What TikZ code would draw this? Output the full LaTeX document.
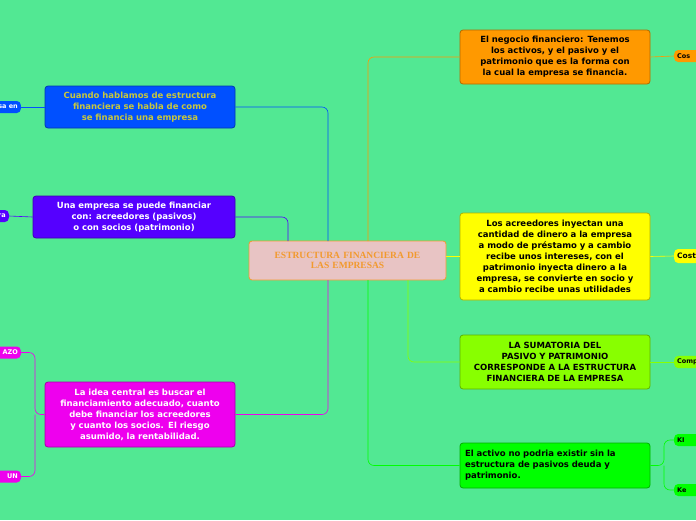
\documentclass[tikz,border=0pt]{standalone}
\usepackage{fontspec}
\setmainfont{DejaVu Sans}
\newfontfamily\titlefont{Liberation Serif}
\usetikzlibrary{positioning}
\definecolor{bgc}{HTML}{52E893}
\definecolor{blueb}{HTML}{0050FF}
\definecolor{purpb}{HTML}{5500FF}
\definecolor{magb}{HTML}{EE00EE}
\definecolor{orab}{HTML}{FF9900}
\definecolor{yelb}{HTML}{FFFF00}
\definecolor{limb}{HTML}{88FF00}
\definecolor{greb}{HTML}{00FF00}
\definecolor{titlec}{HTML}{F29A2E}
\definecolor{centc}{HTML}{E8C4C4}
\definecolor{texty}{HTML}{C8C83C}
\hyphenpenalty=10000
\exhyphenpenalty=10000
\tikzset{
  topic/.style={draw=#1!70!black, fill=#1, rounded corners=3pt, thick,
    align=center, font=\bfseries\fontsize{8.5}{11}\selectfont,
    inner sep=3pt},
  leaf/.style={fill=#1, rounded corners=4pt, minimum height=12pt, text width=44pt,
    inner sep=3pt, font=\bfseries\fontsize{6.5}{7}\selectfont},
  link/.style={draw=#1, semithick, rounded corners=6pt},
}
\begin{document}
\begin{tikzpicture}[x=1pt,y=-1pt]
  \useasboundingbox (0,0) rectangle (696,520);
  \clip (0,0) rectangle (696,520);
  \fill[bgc] (0,0) rectangle (696,520);

  % central topic
  \node[draw=titlec, fill=centc, thick, rounded corners=3pt, minimum width=197pt,
    minimum height=39pt, text width=185pt, align=center, text=titlec,
    font=\titlefont\bfseries\fontsize{9.5}{10.5}\selectfont] (root) at (347.5,260.5)
    {ESTRUCTURA FINANCIERA DE\\LAS EMPRESAS};

  % left side
  \node[topic=blueb, text=texty, minimum width=190pt, minimum height=42pt, text width=180pt] (cuando) at (140,107)
    {Cuando hablamos de estructura financiera se habla de como se financia una empresa};
  \node[topic=purpb, text=white, minimum width=202pt, minimum height=42pt, text width=190pt] (socios) at (134,217)
    {Una empresa se puede financiar con: acreedores (pasivos) o con socios (patrimonio)};
  \node[topic=magb, text=white, minimum width=190pt, minimum height=65pt, text width=180pt] (idea) at (140,414.5)
    {La idea central es buscar el financiamiento adecuado, cuanto debe financiar los acreedores y cuanto los socios. El riesgo asumido, la rentabilidad.};

  \node[leaf=blueb, text=white, anchor=east, align=right] (ia) at (21,107) {sa en};
  \node[leaf=purpb, text=white, anchor=east, align=right] (ib) at (9,216) {ra};
  \node[leaf=magb, text=white, anchor=east, align=right] (ic) at (21,352.5) {AZO};
  \node[leaf=magb, text=white, anchor=east, align=right] (id) at (21,476.5) {UN};

  % right side
  \node[topic=orab, minimum width=190pt, minimum height=54pt, text width=180pt] (negocio) at (555,57)
    {El negocio financiero: Tenemos los activos, y el pasivo y el patrimonio que es la forma con la cual la empresa se financia.};
  \node[topic=yelb, minimum width=190pt, minimum height=87pt, text width=180pt] (acree) at (555,256.5)
    {Los acreedores inyectan una cantidad de dinero a la empresa a modo de préstamo y a cambio recibe unos intereses, con el patrimonio inyecta dinero a la empresa, se convierte en socio y a cambio recibe unas utilidades};
  \node[topic=limb, minimum width=190pt, minimum height=54pt, text width=180pt] (suma) at (555,362)
    {LA SUMATORIA DEL PASIVO Y PATRIMONIO CORRESPONDE A LA ESTRUCTURA FINANCIERA DE LA EMPRESA};
  \node[topic=greb, minimum width=190pt, minimum height=45pt, text width=180pt, align=left] (activo) at (555,465.5)
    {El activo no podria existir sin la estructura de pasivos deuda y patrimonio.};

  \node[leaf=orab, anchor=west, align=left] (oa) at (674,56) {Cos};
  \node[leaf=yelb, anchor=west, align=left, font=\bfseries\fontsize{7.5}{8}\selectfont, minimum height=14pt] (ob) at (674,256) {Cost};
  \node[leaf=limb, anchor=west, align=left] (oc) at (674,362) {Comp};
  \node[leaf=greb, anchor=west, align=left] (od) at (674,440) {KI};
  \node[leaf=greb, anchor=west, align=left] (oe) at (674,490) {Ke};

  % connectors
  \draw[link=blueb] (cuando.east) -| (328,241);
  \draw[link=purpb] (socios.east) -| (288,241);
  \draw[link=magb] (idea.east) -| (328,280);
  \draw[link=orab] (negocio.west) -| (368,241);
  \draw[link=yelb] (root.east |- acree.west) -- (acree.west);
  \draw[link=limb] (408,280) |- (suma.west);
  \draw[link=greb] (368,280) |- (activo.west);

  \draw[link=blueb] (ia.east) -- (cuando.west);
  \draw[link=purpb] (ib.east) -- (socios.west);
  \draw[link=magb] (ic.east) -| (35,414.5) -- (idea.west);
  \draw[link=magb] (id.east) -| (35,414.5);
  \draw[link=orab] (negocio.east) -- (oa.west);
  \draw[link=yelb] (acree.east) -- (ob.west);
  \draw[link=limb] (suma.east) -- (oc.west);
  \draw[link=greb] (activo.east) -- (664,465.5) |- (od.west);
  \draw[link=greb] (664,465.5) |- (oe.west);
\end{tikzpicture}
\end{document}
